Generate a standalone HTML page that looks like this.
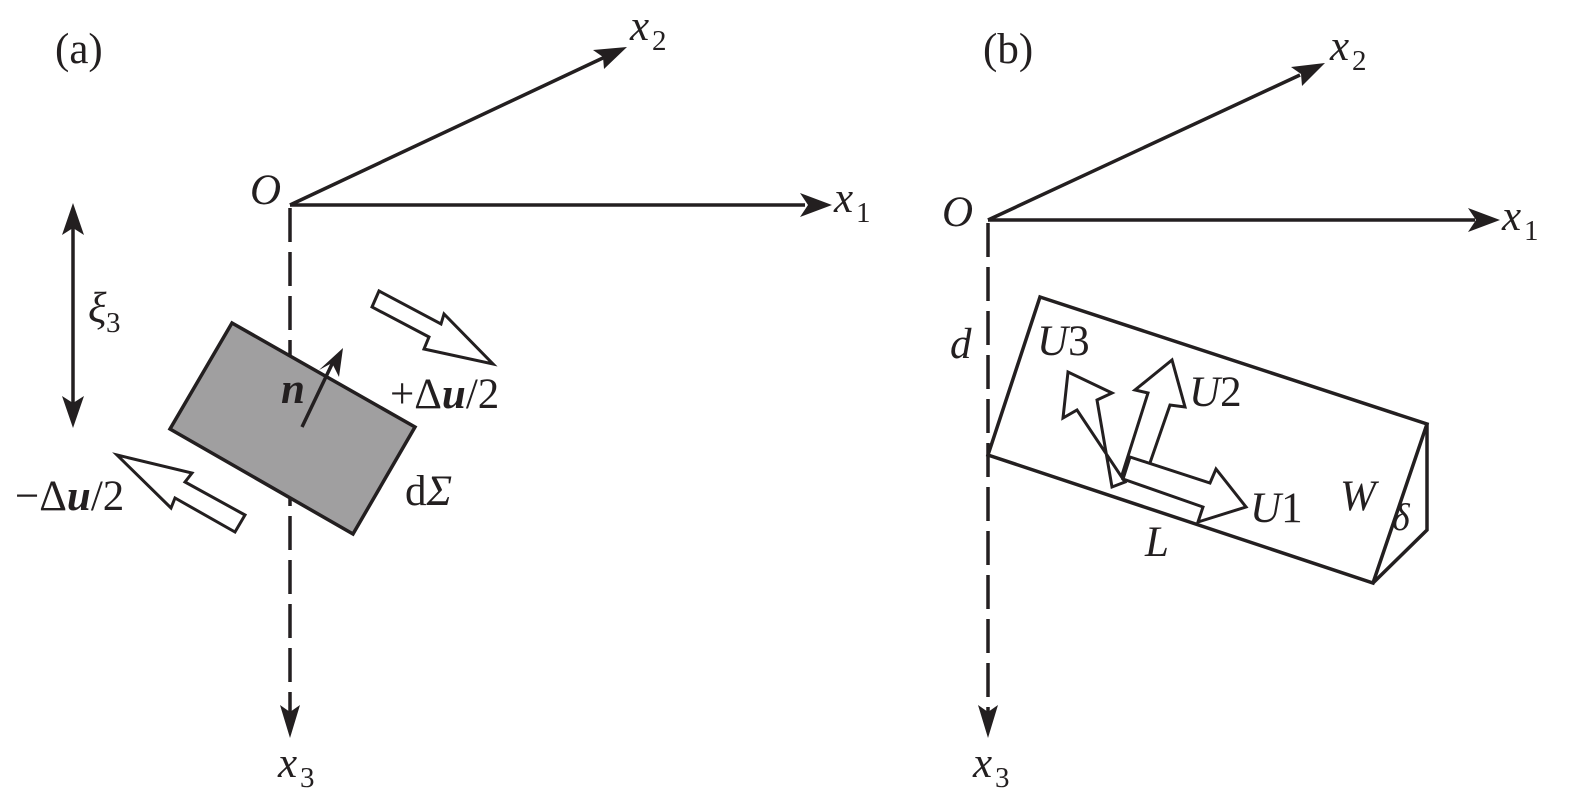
<!DOCTYPE html>
<html><head><meta charset="utf-8"><style>
html,body{margin:0;padding:0;background:#fff;}
svg{display:block;}
text{font-family:"Liberation Serif",serif;fill:#231f20;}
.i{font-style:italic;}
</style></head><body>
<svg width="1575" height="799" viewBox="0 0 1575 799" xmlns="http://www.w3.org/2000/svg">
<g stroke="#231f20" stroke-width="3.5" fill="none">
<line x1="290" y1="205" x2="805" y2="205"/>
<line x1="290" y1="205" x2="605" y2="57"/>
<line x1="290" y1="208" x2="290" y2="712" stroke-dasharray="34 10"/>
<line x1="73" y1="225" x2="73" y2="408"/>
<line x1="988" y1="220" x2="1475" y2="220"/>
<line x1="988" y1="220" x2="1300" y2="75"/>
<line x1="988" y1="223" x2="988" y2="712" stroke-dasharray="34 10"/>
</g>
<g fill="#231f20">
<polygon points="832,205 800,193 808,205 800,217"/>
<polygon points="627,47 593,50 603,57 604,69"/>
<polygon points="290,738 280,705 290,712 300,705"/>
<polygon points="73,203 62,235 73,228 84,235"/>
<polygon points="73,428 62,396 73,403 84,396"/>
<polygon points="1500,220 1468,208 1476,220 1468,232"/>
<polygon points="1325,63 1291,67 1301,74 1302,86"/>
<polygon points="988,738 978,705 988,712 998,705"/>
</g>
<polygon points="232,323 415,427 353,534 170,429" fill="#a09fa0" stroke="#231f20" stroke-width="3.5"/>
<line x1="302" y1="427" x2="333" y2="362" stroke="#231f20" stroke-width="3.5"/>
<polygon points="343,348 319,370 332,363 339,377" fill="#231f20"/>
<g fill="#fff" stroke="#231f20" stroke-width="3">
<polygon points="379,291 441,324 444,314 493,364 424,349 429,337 372,307"/>
<polygon points="117,455 192,473 185,482 245,515 235,532 175,498 171,508"/>
</g>
<g fill="none" stroke="#231f20" stroke-width="3.5">
<polygon points="1040,297 1427,424 1373,583 988,455"/>
<polyline points="1427,424 1427,530 1373,583"/>
</g>
<g fill="#fff" stroke="#231f20" stroke-width="3">
<polygon points="1112,487 1097,400 1112,393 1068,372 1063,418 1077,410 1125,482"/>
<polygon points="1143,483 1170,405 1185,407 1172,360 1135,390 1148,393 1122,475"/>
<polygon points="1130,457 1210,483 1216,469 1246,507 1198,522 1203,507 1123,479"/>
</g>
<text x="55" y="63" font-size="43">(a)</text>
<text x="250" y="204" font-size="43" class="i">O</text>
<text x="834" y="212" font-size="43" class="i">x</text><text x="856" y="222" font-size="29">1</text>
<text x="630" y="40" font-size="43" class="i">x</text><text x="652" y="50" font-size="29">2</text>
<text x="278" y="777" font-size="43" class="i">x</text><text x="300" y="787" font-size="29">3</text>
<text x="88" y="322" font-size="43" class="i">ξ</text><text x="106" y="332" font-size="29">3</text>
<text x="281" y="403" font-size="43" font-weight="bold" class="i">n</text>
<text x="390" y="408" font-size="43">+Δ<tspan font-weight="bold" font-style="italic">u</tspan>/2</text>
<text x="405" y="505" font-size="43">d<tspan font-style="italic">Σ</tspan></text>
<text x="15" y="510" font-size="43">−Δ<tspan font-weight="bold" font-style="italic">u</tspan>/2</text>
<text x="983" y="63" font-size="43">(b)</text>
<text x="942" y="226" font-size="43" class="i">O</text>
<text x="1502" y="230" font-size="43" class="i">x</text><text x="1524" y="240" font-size="29">1</text>
<text x="1330" y="60" font-size="43" class="i">x</text><text x="1352" y="70" font-size="29">2</text>
<text x="973" y="777" font-size="43" class="i">x</text><text x="995" y="787" font-size="29">3</text>
<text x="950" y="358" font-size="43" class="i">d</text>
<text x="1037" y="355" font-size="43" class="i">U<tspan font-style="normal">3</tspan></text>
<text x="1189" y="406" font-size="43" class="i">U<tspan font-style="normal">2</tspan></text>
<text x="1250" y="522" font-size="43" class="i">U<tspan font-style="normal">1</tspan></text>
<text x="1145" y="556" font-size="43" class="i">L</text>
<text x="1340" y="510" font-size="43" class="i">W</text>
<text x="1392" y="530" font-size="38" class="i">δ</text>
</svg>
</body></html>
